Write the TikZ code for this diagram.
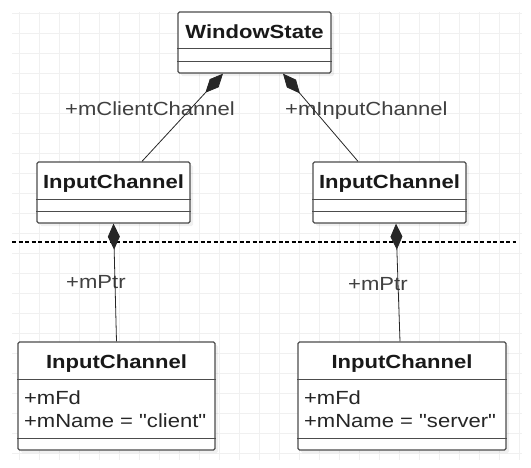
\documentclass[tikz,border=0pt]{standalone}
\usepackage{fontspec}
\setmainfont[FakeStretch=1.16,Ligatures=TeXOff]{Liberation Sans}
\usetikzlibrary{arrows.meta,calc,shadows}

\tikzset{
	classe/.style={draw=black!70,line width=1.3pt,fill=white,rounded corners=1.5pt,inner sep=0pt,
		minimum width=153pt,minimum height=61pt,
		drop shadow={shadow xshift=3pt,shadow yshift=-3pt,opacity=0.12}},
	titre/.style={font=\fontsize{19}{23}\selectfont\bfseries,text=black!90,inner sep=0pt,anchor=base},
	attr/.style={font=\fontsize{19}{23}\selectfont,text=black!85,inner sep=0pt,anchor=base west},
	role/.style={font=\fontsize{19}{23}\selectfont,text=black!75,inner sep=0pt,anchor=base west},
	compo/.style={{Diamond[length=26pt,width=12pt]}-,draw=black!85,line width=0.8pt},
	sep/.style={draw=black!70,line width=1.3pt},
}

\begin{document}
\begin{tikzpicture}[x=1pt,y=-1pt]
	%
	% Cadre
	\useasboundingbox (0,0) rectangle (531,467);
	%
	% Grille
	\foreach \gx in {19,39,...,519} \draw[black!6,line width=0.6pt] (\gx,12) -- (\gx,460);
	\foreach \gy in {13,33,...,453} \draw[black!6,line width=0.6pt] (12,\gy) -- (522,\gy);
	%
	% Ligne de separation
	\coordinate (sepG) at (12,242);
	\coordinate (sepD) at (516,242);
	\draw[black,line width=1.2pt,dash pattern=on 4pt off 2.5pt] (sepG) -- (sepD);
	%
	% Roles
	\node[role] (roleClient) at (65,115.5) {+mClientChannel};
	\node[role] (roleInput) at (285,115.5) {+mInputChannel};
	\node[role] (rolePtrG) at (66,288) {+mPtr};
	\node[role] (rolePtrD) at (348,290) {+mPtr};
	%
	% Classes
	\node[classe] (ws) at (254.5,42.5) {};
	\node[classe] (icG) at (113.5,192.5) {};
	\node[classe] (icD) at (389.5,192.5) {};
	\node[classe,minimum width=197pt,minimum height=108pt] (icClient) at (116.5,396) {};
	\node[classe,minimum width=208pt,minimum height=108pt] (icServer) at (402,396) {};
	%
	% Compositions
	\draw[compo] ([xshift=-31.5pt]ws.south) -- ([xshift=28.5pt]icG.north);
	\draw[compo] ([xshift=28.5pt]ws.south) -- ([xshift=-31.5pt]icD.north);
	\draw[compo] (icG.south) -- (icClient.north);
	\draw[compo] ([xshift=6.5pt]icD.south) -- ([xshift=-2pt]icServer.north);
	%
	% WindowState
	\node[titre] (wsTitre) at ($(ws.north)+(0,27)$) {WindowState};
	\draw[sep] ($(ws.north west)+(0,37)$) -- ($(ws.north east)+(0,37)$);
	\draw[sep] ($(ws.north west)+(0,50)$) -- ($(ws.north east)+(0,50)$);
	%
	% InputChannel (haut)
	\node[titre] (icGTitre) at ($(icG.north)+(0,27)$) {InputChannel};
	\draw[sep] ($(icG.north west)+(0,38)$) -- ($(icG.north east)+(0,38)$);
	\draw[sep] ($(icG.north west)+(0,50)$) -- ($(icG.north east)+(0,50)$);
	\node[titre] (icDTitre) at ($(icD.north)+(0,27)$) {InputChannel};
	\draw[sep] ($(icD.north west)+(0,38)$) -- ($(icD.north east)+(0,38)$);
	\draw[sep] ($(icD.north west)+(0,50)$) -- ($(icD.north east)+(0,50)$);
	%
	% InputChannel client
	\node[titre] (icClientTitre) at ($(icClient.north)+(0,26.7)$) {InputChannel};
	\draw[sep] ($(icClient.north west)+(0,38)$) -- ($(icClient.north east)+(0,38)$);
	\node[attr] (icClientFd) at ($(icClient.north west)+(6.5,62.7)$) {+mFd};
	\node[attr] (icClientName) at ($(icClient.north west)+(6.5,86)$) {+mName = "client"};
	\draw[sep] ($(icClient.north west)+(0,97)$) -- ($(icClient.north east)+(0,97)$);
	%
	% InputChannel server
	\node[titre] (icServerTitre) at ($(icServer.north)+(0,26.7)$) {InputChannel};
	\draw[sep] ($(icServer.north west)+(0,38)$) -- ($(icServer.north east)+(0,38)$);
	\node[attr] (icServerFd) at ($(icServer.north west)+(6.5,62.7)$) {+mFd};
	\node[attr] (icServerName) at ($(icServer.north west)+(6.5,86)$) {+mName = "server"};
	\draw[sep] ($(icServer.north west)+(0,97)$) -- ($(icServer.north east)+(0,97)$);
\end{tikzpicture}
\end{document}
